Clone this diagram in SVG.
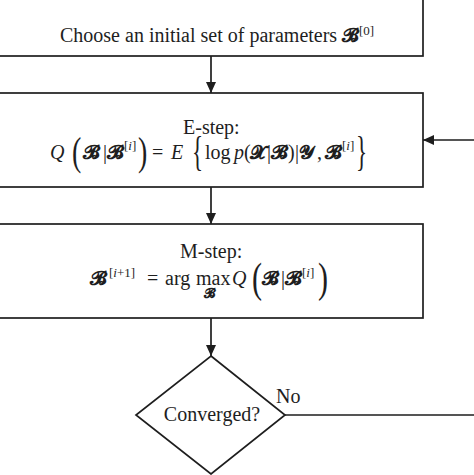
<svg xmlns="http://www.w3.org/2000/svg" width="474" height="475" viewBox="0 0 474 475">
<defs>
<style>
.box{fill:#fff;stroke:#1e1e1e;stroke-width:1.7}
.ln{fill:none;stroke:#1e1e1e;stroke-width:1.7}
text{font-family:"Liberation Serif","Times New Roman",serif;font-size:20px;fill:#1e1e1e}
.it{font-style:italic}
.cal{font-family:"DejaVu Serif","DejaVu Sans","Noto Sans",serif;font-weight:bold;font-size:19px}
.sup{font-size:13px}
.calsub{font-family:"DejaVu Serif","DejaVu Sans","Noto Sans",serif;font-weight:bold;font-size:13px}
.bp{font-size:40px}
.bm{font-size:43px}
.bb{font-size:42px}
</style>
<marker id="ah" markerWidth="11" markerHeight="10" refX="11" refY="5" orient="auto" markerUnits="userSpaceOnUse">
<path d="M0,0 L11,5 L0,10 Z" fill="#1e1e1e"/>
</marker>
</defs>
<rect width="474" height="475" fill="#fff"/>
<g id="connectors">
<line class="ln" x1="211" y1="56" x2="211" y2="93" marker-end="url(#ah)"/>
<line class="ln" x1="211" y1="187" x2="211" y2="224" marker-end="url(#ah)"/>
<line class="ln" x1="211" y1="318" x2="211" y2="356" marker-end="url(#ah)"/>
<path class="ln" d="M285,415 H490 V140 H423" marker-end="url(#ah)"/>
</g>
<g id="init">
<rect class="box" x="-5" y="-5" width="428" height="61"/>
<text x="60" y="42">Choose an initial set of parameters <tspan class="cal" x="342">𝓑</tspan><tspan class="sup" x="359" y="35">[0]</tspan></text>
</g>
<g id="estep">
<rect class="box" x="-5" y="93" width="428" height="94"/>
<text x="183" y="134">E-step:</text>
<text y="159"><tspan class="it" x="50">Q</tspan><tspan class="cal" x="83">𝓑</tspan><tspan x="103">|</tspan><tspan class="cal" x="107">𝓑</tspan><tspan class="sup" x="124" y="150">[<tspan class="it">i</tspan>]</tspan><tspan x="152" y="159">=</tspan><tspan class="it" x="171">E</tspan><tspan x="205">log</tspan><tspan class="it" x="234">p</tspan><tspan x="244">(</tspan><tspan class="cal" x="250">𝓧</tspan><tspan x="267">|</tspan><tspan class="cal" x="271">𝓑</tspan><tspan x="288">)</tspan><tspan x="295">|</tspan><tspan class="cal" x="299">𝓨</tspan><tspan x="317">,</tspan><tspan class="cal" x="325">𝓑</tspan><tspan class="sup" x="342" y="150">[<tspan class="it">i</tspan>]</tspan></text>
<text class="bp" transform="translate(72,165) scale(0.7,1)">(</text>
<text class="bp" transform="translate(138,165) scale(0.7,1)">)</text>
<text class="bb" transform="translate(192,165) scale(0.55,1)">{</text>
<text class="bb" transform="translate(356,165) scale(0.55,1)">}</text>
</g>
<g id="mstep">
<rect class="box" x="-5" y="224" width="428" height="94"/>
<text x="180" y="258">M-step:</text>
<text y="285"><tspan class="cal" x="90">𝓑</tspan><tspan class="sup" x="109" y="277">[<tspan class="it">i</tspan>+1]</tspan><tspan x="147" y="285">=</tspan><tspan x="165">arg</tspan><tspan x="196">max</tspan><tspan class="it" x="232">Q</tspan><tspan class="cal" x="262">𝓑</tspan><tspan x="281">|</tspan><tspan class="cal" x="285">𝓑</tspan><tspan class="sup" x="302" y="277">[<tspan class="it">i</tspan>]</tspan></text>
<text class="calsub" x="204" y="298">𝓑</text>
<text class="bm" transform="translate(252,292) scale(0.7,1)">(</text>
<text class="bm" transform="translate(318,292) scale(0.7,1)">)</text>
</g>
<g id="converged">
<polygon class="box" points="211,356 285,415 211,474 136,415"/>
<text x="212" y="421" text-anchor="middle">Converged?</text>
</g>
<text x="276" y="403">No</text>
</svg>
